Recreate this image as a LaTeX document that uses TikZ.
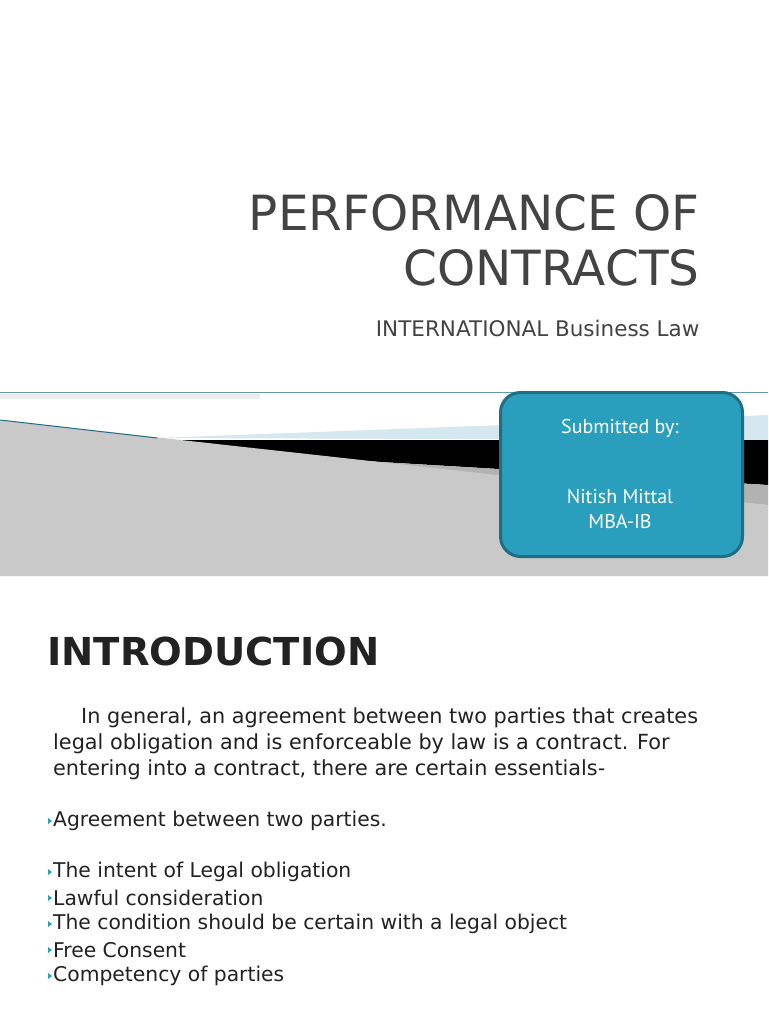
\documentclass[tikz,border=0pt]{standalone}
\usepackage{fontspec}
\setmainfont{DejaVu Sans}
\newfontfamily\boxfont{PT Sans}
\definecolor{teal1}{HTML}{2A9FBD}
\definecolor{teal2}{HTML}{1F6E85}
\definecolor{lblue}{HTML}{D6E8EF}
\definecolor{band}{HTML}{C9C9C9}
\definecolor{txt}{HTML}{222222}
\tikzset{bul/.style={anchor=west,font=\fontsize{20.3}{20}\selectfont,text=txt,inner sep=0pt},
 tri/.style={fill=teal1}}
\begin{document}
\begin{tikzpicture}[x=1pt,y=-1pt]
\useasboundingbox (0,0) rectangle (768,1024);
\fill[white] (0,0) rectangle (768,1024);
% band
\fill[gray!15] (0,394) rectangle (260,399);
\draw[teal2!70,line width=1pt] (0,392) -- (768,392);
\fill[lblue] (157,438) -- (768,415) -- (768,440) -- cycle;
\fill[black] (10,440) -- (768,440) -- (768,485) -- cycle;
\fill[gray!60] (10,440) -- (768,485) -- (768,505) -- cycle;
\fill[band] (0,420) -- (768,505) -- (768,576) -- (0,576) -- cycle;
\draw[teal2,line width=1pt] (0,420) -- (157,438);
% box
\node[draw=teal2,line width=3pt,fill=teal1,rounded corners=20pt,minimum width=242pt,minimum height=164pt,anchor=north west] (box) at (499,391) {};
\node[text=white,font=\boxfont\fontsize{20}{20}\selectfont] (sub) at (620,428) {Submitted by:};
\node[text=white,font=\boxfont\fontsize{20}{25}\selectfont,align=center] (nm) at (620,509) {Nitish Mittal\\MBA-IB};
% title
\node[anchor=east,align=right,text=txt!85,font=\fontsize{48.5}{55}\selectfont] (t1) at (703,240) {PERFORMANCE OF\\CONTRACTS};
\node[anchor=east,text=txt!85,font=\fontsize{21.5}{21}\selectfont] (t2) at (703,328) {INTERNATIONAL Business Law};
% slide 2
\node[anchor=west,text=txt,font=\bfseries\fontsize{38.5}{40}\selectfont,inner sep=0pt] (intro) at (47,651) {INTRODUCTION};
\node[anchor=north west,align=left,text=txt,font=\fontsize{20.8}{26}\selectfont,inner sep=0pt] (par) at (53,707) {\hspace*{28pt}In general, an agreement between two parties that creates\\legal obligation and is enforceable by law is a contract. For\\entering into a contract, there are certain essentials-};
\foreach \y/\t in {821/Agreement between two parties.,872/The intent of Legal obligation,898/Lawful consideration,924/The condition should be certain with a legal object,950/Free Consent,976/Competency of parties}{
 \fill[tri] (48,\y-3) -- (52,\y) -- (48,\y+3) -- cycle;
 \node[bul] at (53,\y) {\t};
}
\end{tikzpicture}
\end{document}
